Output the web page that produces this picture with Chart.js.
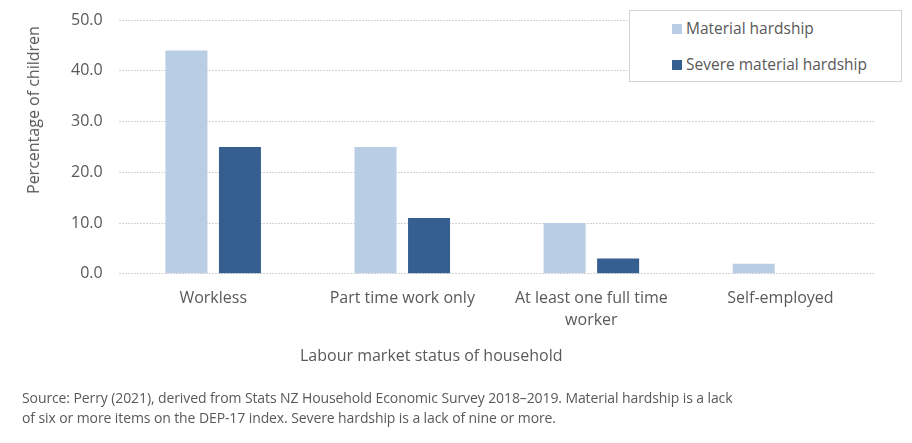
<!DOCTYPE html>
<html lang="en">
<head>
  <meta charset="UTF-8">
  <title>Material hardship by labour market status</title>
  <style>
    body {
      margin: 0;
      background: #ffffff;
      font-family: "Open Sans", sans-serif;
      color: #595959;
    }
    .wrap {
      position: relative;
      width: 912px;
      height: 443px;
    }
    .chart-box {
      position: absolute;
      left: 0;
      top: 0;
      width: 912px;
      height: 443px;
    }
    #legend {
      position: absolute;
      left: 629px;
      top: 10px;
      width: 273px;
      height: 72px;
      border: 1px solid #d4d4d4;
      background: #fff;
      box-sizing: border-box;
      padding: 2px 0 0 42px;
    }
    #legend div {
      font-size: 15.5px;
      height: 36px;
      line-height: 30px;
      white-space: nowrap;
    }
    #legend span {
      display: inline-block;
      width: 10px;
      height: 10px;
      margin-right: 4px;
    }
    .y-title {
      position: absolute;
      left: 33px;
      top: 110px;
      transform: translate(-50%, -50%) rotate(-90deg);
      font-size: 16px;
      white-space: nowrap;
      color: #595959;
    }
    .x-title {
      position: absolute;
      left: 300px;
      top: 344px;
      font-size: 16px;
      line-height: 22px;
      color: #595959;
      white-space: nowrap;
    }
    .source {
      position: absolute;
      left: 22px;
      top: 388px;
      font-size: 14px;
      line-height: 20px;
      letter-spacing: -0.1px;
      color: #595959;
      white-space: nowrap;
    }
  </style>
</head>
<body>
  <div class="wrap">
    <div class="chart-box"><canvas id="chart"></canvas></div>
    <div id="legend"></div>
    <div class="y-title">Percentage of children</div>
    <div class="x-title">Labour market status of household</div>
    <div class="source">Source: Perry (2021), derived from Stats NZ Household Economic Survey 2018–2019. Material hardship is a lack<br>of six or more items on the DEP-17 index. Severe hardship is a lack of nine or more.</div>
  </div>

  <script src="https://cdn.jsdelivr.net/npm/chart.js"></script>
  <script>
    // categories and series
    const categories = ['Workless', 'Part time work only', ['At least one full time', 'worker'], 'Self-employed'];
    const seriesNames = ['Material hardship', 'Severe material hardship'];
    const materialHardship = [44, 25, 10, 2];
    const severeHardship = [25, 11, 3, 0];
    const seriesColors = ['#b9cde4', '#365f91'];

    const textColor = '#595959';
    const gridColor = '#d4d4d4';

    const ctx = document.getElementById('chart').getContext('2d');
    const chart = new Chart(ctx, {
      type: 'bar',
      data: {
        labels: categories,
        datasets: [
          { label: seriesNames[0], data: materialHardship, backgroundColor: seriesColors[0] },
          { label: seriesNames[1], data: severeHardship, backgroundColor: seriesColors[1] }
        ]
      },
      options: {
        responsive: true,
        maintainAspectRatio: false,
        animation: false,
        categoryPercentage: 0.566,
        barPercentage: 0.785,
        layout: { padding: { top: 20, right: 37, left: 55, bottom: 106 } },
        plugins: {
          legend: { display: false },
          tooltip: { enabled: false }
        },
        scales: {
          x: {
            grid: { display: false },
            border: { display: false },
            ticks: {
              color: textColor,
              font: { family: 'Open Sans', size: 16, lineHeight: 1.35 },
              maxRotation: 0,
              padding: 6
            }
          },
          y: {
            min: 0,
            max: 50,
            grid: { color: gridColor, drawTicks: false, lineWidth: 1 },
            border: { display: false, dash: [2, 1] },
            ticks: {
              stepSize: 10,
              color: textColor,
              font: { family: 'Open Sans', size: 16, lineHeight: 0.5 },
              padding: 16,
              callback: v => v.toFixed(1)
            }
          }
        }
      }
    });

    // HTML legend inside the plot area, like the reference
    const legend = document.getElementById('legend');
    chart.data.datasets.forEach(ds => {
      const row = document.createElement('div');
      const sw = document.createElement('span');
      sw.style.background = ds.backgroundColor;
      row.appendChild(sw);
      row.appendChild(document.createTextNode(ds.label));
      legend.appendChild(row);
    });
  </script>
</body>
</html>
